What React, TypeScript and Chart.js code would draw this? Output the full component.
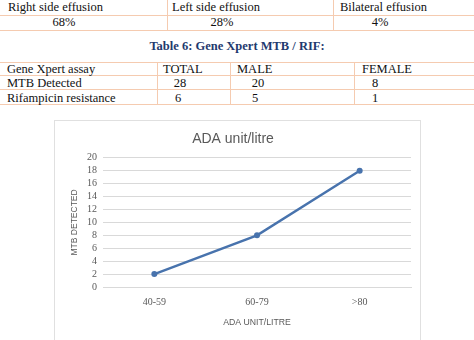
import React, { useEffect, useRef } from "react";
import { Chart, registerables } from "chart.js";

Chart.register(...registerables);

const effusionLabels = ["Right side effusion", "Left side effusion", "Bilateral effusion"];
const effusionValues = ["68%", "28%", "4%"];
const tableTitle = "Table 6: Gene Xpert MTB / RIF:";
const geneHeader = ["Gene Xpert assay", "TOTAL", "MALE", "FEMALE"];
const mtbDetectedRow = ["MTB Detected", "28", "20", "8"];
const rifampicinRow = ["Rifampicin resistance", "6", "5", "1"];

const adaCategories = ["40-59", "60-79", ">80"];
const mtbDetected = [2, 8, 18];
const chartTitle = "ADA unit/litre";
const xTitle = "ADA UNIT/LITRE";
const yTitle = "MTB DETECTED";

const LINE = "#f5cbb0";
const TXT = "#111";
const SERIF = "'Liberation Serif', 'Times New Roman', Times, serif";
const SANS = "'Liberation Sans', Arial, sans-serif";

type T = { text: string; x: number; y: number; center?: boolean };

function Txt({ text, x, y, center }: T) {
  return (
    <span
      style={{
        position: "absolute",
        left: center ? x - 40 : x,
        width: center ? 80 : undefined,
        textAlign: center ? "center" : "left",
        top: y - 7,
        lineHeight: "14px",
        fontSize: 12.5,
        fontFamily: SERIF,
        color: TXT,
        whiteSpace: "nowrap",
      }}
    >
      {text}
    </span>
  );
}

function HLine({ y, x1, x2 }: { y: number; x1: number; x2: number }) {
  return <div style={{ position: "absolute", left: x1, top: y, width: x2 - x1, height: 1, background: LINE }} />;
}
function VLine({ x, y1, y2 }: { x: number; y1: number; y2: number }) {
  return <div style={{ position: "absolute", left: x, top: y1, width: 1, height: y2 - y1, background: LINE }} />;
}

export default function App() {
  const ref = useRef<HTMLCanvasElement | null>(null);

  useEffect(() => {
    if (!ref.current) return;
    const grey = "#595959";
    const chart = new Chart(ref.current, {
      type: "line",
      data: {
        labels: adaCategories,
        datasets: [
          {
            data: mtbDetected,
            borderColor: "#4873ad",
            backgroundColor: "#4873ad",
            borderWidth: 2.4,
            pointRadius: 3,
            pointBorderWidth: 0,
            pointBackgroundColor: "#4873ad",
            tension: 0,
          },
        ],
      },
      options: {
        animation: false,
        responsive: false,
        layout: { padding: { left: 0, right: 29, top: 0, bottom: 0 } },
        plugins: {
          legend: { display: false },
          tooltip: { enabled: false },
          title: {
            display: true,
            text: chartTitle,
            color: grey,
            font: { family: SANS, size: 14, weight: "normal" },
            padding: { top: 11, bottom: 10 },
          },
        },
        scales: {
          x: {
            offset: true,
            grid: { display: false, drawTicks: false },
            border: { display: true, color: "#d9d9d9", width: 1 },
            ticks: {
              color: grey,
              padding: 9,
              font: { family: SERIF, size: 10 },
              maxRotation: 0,
            },
            title: {
              display: true,
              text: xTitle,
              color: grey,
              font: { family: SANS, size: 8.7 },
              padding: { top: 0, bottom: 12 },
            },
            afterFit: (s: any) => {
              s.height = 53;
            },
          },
          y: {
            min: 0,
            max: 20,
            ticks: {
              stepSize: 2,
              autoSkip: false,
              color: grey,
              padding: 6,
              font: { family: SERIF, size: 10 },
            },
            grid: { color: "#d9d9d9", drawTicks: false, lineWidth: 1 },
            border: { display: false },
            title: {
              display: true,
              text: yTitle,
              color: grey,
              font: { family: SANS, size: 8.5 },
              padding: { top: 15, bottom: 0 },
            },
            afterFit: (s: any) => {
              s.width = 48;
            },
          },
        },
      },
    });
    return () => chart.destroy();
  }, []);

  return (
    <div style={{ position: "absolute", left: 0, top: 0, width: 474, height: 340, overflow: "hidden", background: "#fff" }}>
      {/* Table 1 */}
      <HLine y={15} x1={0} x2={474} />
      <HLine y={30} x1={0} x2={474} />
      <VLine x={167} y1={0} y2={31} />
      <VLine x={333} y1={0} y2={31} />
      <Txt text={effusionLabels[0]} x={8} y={7} />
      <Txt text={effusionLabels[1]} x={172} y={7} />
      <Txt text={effusionLabels[2]} x={340} y={7} />
      <Txt text={effusionValues[0]} x={64} y={22} center />
      <Txt text={effusionValues[1]} x={222} y={22} center />
      <Txt text={effusionValues[2]} x={380} y={22} center />

      {/* Title */}
      <div
        style={{
          position: "absolute",
          left: 0,
          width: 474,
          top: 39,
          lineHeight: "15px",
          textAlign: "center",
          fontFamily: SERIF,
          fontWeight: "bold",
          fontSize: 12.5,
          color: "#1f3a6e",
        }}
      >
        {tableTitle}
      </div>

      {/* Table 2 */}
      <HLine y={62} x1={0} x2={474} />
      <HLine y={75} x1={0} x2={474} />
      <HLine y={89} x1={0} x2={474} />
      <HLine y={104} x1={0} x2={474} />
      <VLine x={157} y1={62} y2={105} />
      <VLine x={230} y1={62} y2={105} />
      <VLine x={354} y1={62} y2={105} />
      <Txt text={geneHeader[0]} x={7} y={69} />
      <Txt text={geneHeader[1]} x={163} y={69} />
      <Txt text={geneHeader[2]} x={237} y={69} />
      <Txt text={geneHeader[3]} x={362} y={69} />
      <Txt text={mtbDetectedRow[0]} x={7} y={83} />
      <Txt text={mtbDetectedRow[1]} x={180} y={83} center />
      <Txt text={mtbDetectedRow[2]} x={258} y={83} center />
      <Txt text={mtbDetectedRow[3]} x={375} y={83} center />
      <Txt text={rifampicinRow[0]} x={7} y={98} />
      <Txt text={rifampicinRow[1]} x={178} y={98} center />
      <Txt text={rifampicinRow[2]} x={255} y={98} center />
      <Txt text={rifampicinRow[3]} x={375} y={98} center />

      {/* Chart */}
      <canvas
        ref={ref}
        width={385}
        height={220}
        style={{ position: "absolute", left: 55, top: 120, width: 385, height: 220 }}
      />
      <div
        style={{
          position: "absolute",
          left: 54,
          top: 120,
          width: 365,
          height: 240,
          border: "1px solid #e0e0e0",
          pointerEvents: "none",
        }}
      />
    </div>
  );
}
